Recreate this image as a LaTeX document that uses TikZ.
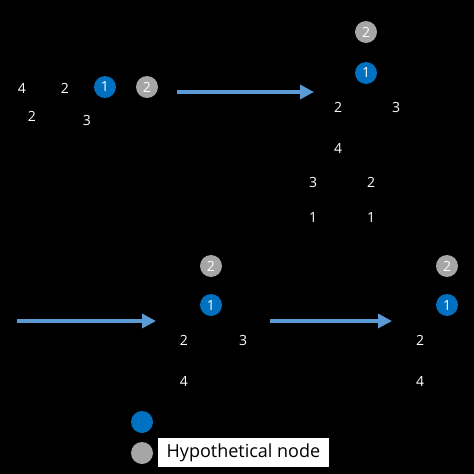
\documentclass[tikz,border=0pt]{standalone}
\usepackage{fontspec}
\setmainfont{Open Sans}
\usetikzlibrary{arrows.meta}
\definecolor{nodeblue}{RGB}{0,112,192}
\definecolor{hypgray}{RGB}{166,166,166}
\definecolor{arrowblue}{RGB}{91,155,213}
\tikzset{%
  num/.style={text=white, font=\fontsize{14}{14}\selectfont, inner sep=0pt},% plain tree value
  cur/.style={num, circle, fill=nodeblue, minimum size=22pt},% current node
  hyp/.style={num, circle, fill=hypgray, minimum size=22pt},% hypothetical node
  step arrow/.style={line width=4.5pt, arrowblue, -{Triangle[length=14pt,width=14pt]}}% step to next panel
}
\begin{document}
\begin{tikzpicture}[x=1pt, y=-1pt]
\fill[black] (0,0) rectangle (474,474);

% first panel
\node[num] (a4) at (22,88) {4};
\node[num] (a2) at (65,88) {2};
\node[cur] (a1) at (105,87) {1};
\node[hyp] (ah) at (147,87) {2};
\node[num] (a2b) at (32,116) {2};
\node[num] (a3) at (87,120) {3};

% second panel
\node[hyp] (bh) at (366,32) {2};
\node[cur] (b1) at (366,73) {1};
\node[num] (b2) at (338,107) {2};
\node[num] (b3) at (396,107) {3};
\node[num] (b4) at (338,148) {4};
\node[num] (b3b) at (313,182) {3};
\node[num] (b2b) at (371,182) {2};
\node[num] (b1a) at (313,217) {1};
\node[num] (b1b) at (371,217) {1};

% third panel
\node[hyp] (ch) at (211,266) {2};
\node[cur] (c1) at (211,305) {1};
\node[num] (c2) at (184,340) {2};
\node[num] (c3) at (243,340) {3};
\node[num] (c4) at (184,381) {4};

% fourth panel
\node[hyp] (dh) at (447,266) {2};
\node[cur] (d1) at (447,305) {1};
\node[num] (d2) at (420,340) {2};
\node[num] (d4) at (420,381) {4};

% arrows between panels
\coordinate (s1) at (177,92);
\coordinate (e1) at (314,92);
\coordinate (s2) at (17,321);
\coordinate (e2) at (156,321);
\coordinate (s3) at (270,321);
\coordinate (e3) at (392,321);
\draw[step arrow] (s1) -- (e1);
\draw[step arrow] (s2) -- (e2);
\draw[step arrow] (s3) -- (e3);

% legend
\node[cur] (lcur) at (142,422) {};
\node[hyp] (lhyp) at (142,453) {};
\node[fill=white, text=black, font=\fontsize{18}{18}\selectfont, inner xsep=8.5pt,
  minimum height=29pt, anchor=west] (ltext) at (158,452.5) {Hypothetical node};
\end{tikzpicture}
\end{document}
